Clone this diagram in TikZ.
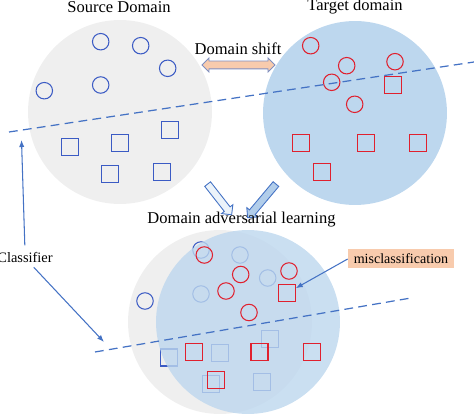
\documentclass[tikz,border=0pt]{standalone}
\usepackage{fontspec}
\setmainfont{Liberation Serif}
\usetikzlibrary{arrows.meta, shapes.arrows}
\definecolor{dablue}{HTML}{3B5BC4}
\definecolor{dared}{HTML}{E0202E}
\definecolor{dadash}{HTML}{4472C4}
\definecolor{dasky}{HTML}{BDD7EE}
\definecolor{dagrey}{HTML}{EFEFEF}
\definecolor{dapeach}{HTML}{F8CBAD}
\definecolor{daedge}{HTML}{7F8FC0}

\begin{document}
\begin{tikzpicture}[x=0.02cm, y=-0.02cm, font=\fontsize{9.4}{11}\selectfont,
        region/.style={circle, minimum size=3.68cm, inner sep=0},
        bpt/.style={circle, draw=dablue, line width=0.6pt, minimum size=3.3mm, inner sep=0},
        rpt/.style={bpt, draw=dared},
        bsq/.style={rectangle, draw=dablue, line width=0.6pt, minimum size=3.4mm, inner sep=0},
        rsq/.style={bsq, draw=dared},
        lbl/.style={inner sep=0},
        split/.style={dadash, line width=0.7pt, dash pattern=on 5pt off 3pt},
        fat/.style={single arrow, draw=dadash, line width=0.5pt, inner xsep=0, inner ysep=0.65mm,
                    single arrow head extend=0.7mm},
        pointer/.style={-{Latex[length=4pt, width=3pt]}, dadash, line width=0.6pt}]
        \useasboundingbox (0,0) rectangle (474,415);
        % source and target
        \node[region, fill=dagrey] (src) at (120,112) {};
        \node[region, fill=dasky] (tgt) at (355,113) {};
        \node[lbl] (srct) at (119,7) {Source Domain};
        \node[lbl] (tgtt) at (355,7) {Target domain};
        \foreach \x/\y [count=\i] in {100.7/41.7, 140.7/45.7, 167.7/68.3, 100.7/85, 44.3/90.7}
          \node[bpt] (s\i) at (\x,\y) {};
        \foreach \x/\y [count=\i] in {70/147, 120/143, 170/130, 110/174, 162/172}
          \node[bsq] (q\i) at (\x,\y) {};
        \foreach \x/\y [count=\i] in {310.7/45.7, 346.7/65.7, 395/61.7, 331.7/82.3, 354.7/104.3}
          \node[rpt] (t\i) at (\x,\y) {};
        \foreach \x/\y [count=\i] in {392.7/85, 300.7/143.3, 365.7/143.3, 417.7/143.3, 321.7/171.7}
          \node[rsq] (u\i) at (\x,\y) {};
        \coordinate (l1a) at (9,132);
        \coordinate (l1b) at (474,62);
        \draw[split] (l1a) -- (l1b);
        % domain shift
        \node[double arrow, draw=daedge, fill=dapeach, line width=0.5pt, inner xsep=0, inner ysep=0.7mm,
              minimum height=1.46cm, double arrow head extend=0.6mm]
              (shift) at (238.5,65) {};
        \node[lbl] (shiftt) at (238,49) {Domain shift};
        \node[fat, fill=dasky!30, minimum height=0.78cm, rotate=-52] (al) at (218.5,198) {};
        \node[fat, fill=dasky!90!dadash, minimum height=0.88cm, rotate=-130] (ar) at (263,199.5) {};
        \node[lbl] (adv) at (241.5,220) {Domain adversarial learning};
        % after adaptation
        \node[region, fill=dagrey] (src2) at (220,322) {};
        \foreach \x/\y [count=\i] in {145/301, 201/250, 240/255, 267.7/278, 201/294}
          \node[bpt] (bs\i) at (\x,\y) {};
        \foreach \x/\y [count=\i] in {169.3/357.5, 220/353.3, 270/339.3, 210.7/384, 262/381.7}
          \node[bsq] (bq\i) at (\x,\y) {};
        \node[region, fill=dasky, fill opacity=0.8] (tgt2) at (248,322) {};
        \foreach \x/\y [count=\i] in {204.3/255, 240.7/274.5, 226/291, 289/271, 249/312.5}
          \node[rpt] (bt\i) at (\x,\y) {};
        \foreach \x/\y [count=\i] in {286.7/293.3, 194/352.3, 259.5/352.3, 312.3/352.3, 216/380}
          \node[rsq] (bu\i) at (\x,\y) {};
        \coordinate (l2a) at (95,352);
        \coordinate (l2b) at (411,298);
        \draw[split] (l2a) -- (l2b);
        % labels
        \node[lbl, anchor=east, font=\fontsize{8.2}{10}\selectfont] (cls) at (53,258) {Classifier};
        \coordinate (c1) at (21.5,140);
        \coordinate (c2) at (104,342);
        \draw[pointer, shorten <=4pt] (cls.north) -- (c1);
        \draw[pointer, shorten <=3pt] (cls) -- (c2);
        \node[fill=dapeach, minimum width=2.12cm, minimum height=3.8mm, inner sep=1pt,
              font=\fontsize{8}{10}\selectfont] (mis) at (401,259) {misclassification};
        \draw[pointer] (mis.west) -- (bu1);
      \end{tikzpicture}
\end{document}
